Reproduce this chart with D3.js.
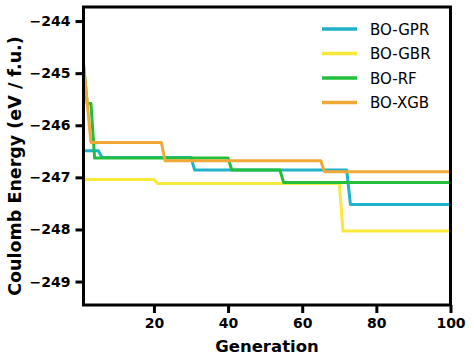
<!DOCTYPE html>
<html>
<head>
<meta charset="utf-8">
<script src="https://cdn.jsdelivr.net/npm/d3@7"></script>
<style>
	body { margin: 0; background: #fff; }
	svg { display: block; font-family: "DejaVu Sans", sans-serif; }
</style>
</head>
<body>
<svg id="chart" width="474" height="362"></svg>
<script>
// best-so-far energy per model, read at the generations where it changes
var gprGen = [1, 5, 6, 30, 31, 72, 73, 100];
var gprVal = [-246.49, -246.49, -246.62, -246.62, -246.86, -246.86, -247.52, -247.52];
var gbrGen = [1, 20, 21, 70, 71, 100];
var gbrVal = [-247.04, -247.04, -247.12, -247.12, -248.03, -248.03];
var rfGen = [1, 2, 3, 4, 40, 41, 54, 55, 100];
var rfVal = [-244.83, -245.58, -245.58, -246.63, -246.63, -246.86, -246.86, -247.10, -247.10];
var xgbGen = [1, 2, 3, 22, 23, 65, 66, 100];
var xgbVal = [-244.81, -245.57, -246.33, -246.33, -246.68, -246.68, -246.89, -246.89];

var seriesNames = ['BO-GPR', 'BO-GBR', 'BO-RF', 'BO-XGB'];
var seriesColors = ['#1fb2ca', '#f8e838', '#22bf3c', '#f0a936'];
var xTicks = [20, 40, 60, 80, 100];
var yTicks = [-244, -245, -246, -247, -248, -249];

var series = [
	{gen: gprGen, val: gprVal},
	{gen: gbrGen, val: gbrVal},
	{gen: rfGen, val: rfVal},
	{gen: xgbGen, val: xgbVal}
];

var margin = {top: 7, right: 23.5, bottom: 57, left: 83.5};
var svg = d3.select('#chart');
var width = +svg.attr('width') - margin.left - margin.right;
var height = +svg.attr('height') - margin.top - margin.bottom;

var g = svg.append('g')
	.attr('transform', `translate(${margin.left}, ${margin.top})`);

var x = d3.scaleLinear().domain([1, 100]).range([0, width]);
var y = d3.scaleLinear().domain([-249.45, -243.73]).range([height, 0]);

// lines
var line = d3.line()
	.x((p) => x(p[0]))
	.y((p) => y(p[1]));

series.forEach(function(s, i) {
	var pts = s.gen.map((gv, j) => [gv, s.val[j]]);
	g.append('path')
		.datum(pts)
		.attr('fill', 'none')
		.attr('stroke', seriesColors[i])
		.attr('stroke-width', 3)
		.attr('stroke-linejoin', 'round')
		.attr('d', line);
});

// axes
var xAxis = g.append('g')
	.attr('transform', `translate(0, ${height})`)
	.call(d3.axisBottom(x).tickValues(xTicks).tickSize(8).tickPadding(5));
var yAxis = g.append('g')
	.call(d3.axisLeft(y).tickValues(yTicks).tickSize(8).tickPadding(5)
		.tickFormat((d) => '\u2212' + Math.abs(d)));

[xAxis, yAxis].forEach(function(a) {
	a.select('.domain').remove();
	a.selectAll('line').attr('stroke', '#000').attr('stroke-width', 3);
	a.selectAll('text')
		.attr('fill', '#000')
		.style('font-size', '14px')
		.style('font-weight', 'bold')
		.style('font-family', '"DejaVu Sans", sans-serif');
});

// frame
g.append('rect')
	.attr('x', 0)
	.attr('y', 0)
	.attr('width', width)
	.attr('height', height)
	.attr('fill', 'none')
	.attr('stroke', '#000')
	.attr('stroke-width', 3);

// axis labels
g.append('text')
	.attr('x', width / 2)
	.attr('y', height + 47)
	.attr('text-anchor', 'middle')
	.style('font-size', '16.5px')
	.style('font-weight', 'bold')
	.text('Generation');

svg.append('text')
	.attr('transform', 'translate(20.5, 166) rotate(-90)')
	.attr('text-anchor', 'middle')
	.style('font-size', '17.5px')
	.style('font-weight', 'bold')
	.text('Coulomb Energy (eV / f.u.)');

// legend
var legend = g.append('g')
	.attr('transform', `translate(${322 - margin.left}, ${29 - margin.top})`);
seriesNames.forEach(function(name, i) {
	var row = legend.append('g').attr('transform', `translate(0, ${i * 24.5})`);
	row.append('line')
		.attr('x1', 0).attr('x2', 35)
		.attr('y1', 0).attr('y2', 0)
		.attr('stroke', seriesColors[i])
		.attr('stroke-width', 3.5);
	row.append('text')
		.attr('x', 48)
		.attr('y', 5.5)
		.style('font-size', '15px')
		.text(name);
});
</script>
</body>
</html>
